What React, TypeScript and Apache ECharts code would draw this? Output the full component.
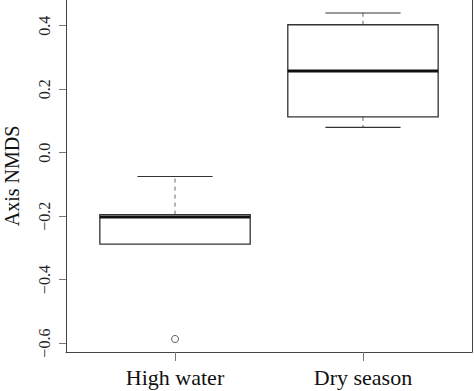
import React, { useEffect, useRef } from "react";
import * as echarts from "echarts";

const categories = ["High water", "Dry season"];
const positions = [1, 2];
const whiskerLow = [-0.288, 0.08];
const q1 = [-0.288, 0.1125];
const median = [-0.203, 0.257];
const q3 = [-0.195, 0.403];
const whiskerHigh = [-0.075, 0.44];
const outliers = [[1, -0.587]];
const yTicks = [-0.6, -0.4, -0.2, 0.0, 0.2, 0.4];

const FONT = "Liberation Serif";

export default function App() {
  const ref = useRef<HTMLDivElement>(null);
  useEffect(() => {
    document.body.style.margin = "0";
    const chart = echarts.init(ref.current!, null, { renderer: "svg" });
    const boxData = positions.map((p, i) => [p, whiskerLow[i], q1[i], median[i], q3[i], whiskerHigh[i]]);
    const halfBox = 0.4;
    const halfStaple = 0.2;
    chart.setOption({
      animation: false,
      grid: { left: 66, right: 2, top: 0, bottom: 39, containLabel: false, outerBoundsMode: "none" },
      xAxis: {
        type: "value",
        min: 0.42,
        max: 2.58,
        splitLine: { show: false },
        axisLine: { show: true, onZero: false, lineStyle: { color: "#444", width: 1 } },
        axisTick: { show: true, customValues: positions, length: 9, lineStyle: { color: "#777" } },
        axisLabel: {
          customValues: positions,
          formatter: (v: number) => categories[Math.round(v) - 1] || "",
          fontFamily: FONT,
          fontSize: 22,
          color: "#111",
          margin: 14,
        },
      },
      yAxis: [
        {
          type: "value",
          min: -0.628,
          max: 0.481,
          position: "left",
          splitLine: { show: false },
          axisLine: { show: true, onZero: false, lineStyle: { color: "#444", width: 1 } },
          axisTick: { show: true, customValues: yTicks, length: 7, lineStyle: { color: "#777" } },
          axisLabel: {
            customValues: yTicks,
            rotate: 90,
            formatter: (v: number) => v.toFixed(1).replace("-", "\u2212"),
            fontFamily: FONT,
            fontSize: 16,
            color: "#222",
            margin: 14,
          },
          name: "Axis NMDS",
          nameLocation: "middle",
          nameRotate: 90,
          nameGap: 44,
          nameTextStyle: { fontFamily: FONT, fontSize: 20, color: "#111" },
        },
        {
          type: "value",
          min: -0.628,
          max: 0.481,
          position: "right",
          splitLine: { show: false },
          axisLine: { show: true, onZero: false, lineStyle: { color: "#444", width: 1 } },
          axisTick: { show: false },
          axisLabel: { show: false },
        },
      ],
      series: [
        {
          type: "custom",
          data: boxData,
          renderItem: (params: any, api: any) => {
            const x = api.value(0);
            const lo = api.value(1);
            const b1 = api.value(2);
            const md = api.value(3);
            const b3 = api.value(4);
            const hi = api.value(5);
            const tl = api.coord([x - halfBox, b3]);
            const br = api.coord([x + halfBox, b1]);
            const mL = api.coord([x - halfBox, md]);
            const mR = api.coord([x + halfBox, md]);
            const cHi = api.coord([x, hi]);
            const cLo = api.coord([x, lo]);
            const cB3 = api.coord([x, b3]);
            const cB1 = api.coord([x, b1]);
            const sHL = api.coord([x - halfStaple, hi]);
            const sHR = api.coord([x + halfStaple, hi]);
            const sLL = api.coord([x - halfStaple, lo]);
            const sLR = api.coord([x + halfStaple, lo]);
            const stroke = "#333";
            const children: any[] = [];
            if (hi > b3) {
              children.push({
                type: "line",
                shape: { x1: cB3[0], y1: cB3[1], x2: cHi[0], y2: cHi[1] },
                style: { stroke: "#666", lineWidth: 1, lineDash: [4, 4] },
              });
              children.push({
                type: "line",
                shape: { x1: sHL[0], y1: sHL[1], x2: sHR[0], y2: sHR[1] },
                style: { stroke, lineWidth: 1.2 },
              });
            }
            if (lo < b1) {
              children.push({
                type: "line",
                shape: { x1: cB1[0], y1: cB1[1], x2: cLo[0], y2: cLo[1] },
                style: { stroke: "#666", lineWidth: 1, lineDash: [4, 4] },
              });
              children.push({
                type: "line",
                shape: { x1: sLL[0], y1: sLL[1], x2: sLR[0], y2: sLR[1] },
                style: { stroke, lineWidth: 1.2 },
              });
            }
            children.push({
              type: "rect",
              shape: { x: tl[0], y: tl[1], width: br[0] - tl[0], height: br[1] - tl[1] },
              style: { fill: "#fff", stroke, lineWidth: 1.3 },
            });
            children.push({
              type: "line",
              shape: { x1: mL[0], y1: mL[1], x2: mR[0], y2: mR[1] },
              style: { stroke: "#111", lineWidth: 3 },
            });
            return { type: "group", children };
          },
        },
        {
          type: "scatter",
          data: outliers,
          symbol: "circle",
          symbolSize: 7,
          itemStyle: { color: "#fff", borderColor: "#333", borderWidth: 1 },
        },
      ],
    });
    return () => chart.dispose();
  }, []);
  return <div ref={ref} style={{ width: 474, height: 391 }} />;
}
